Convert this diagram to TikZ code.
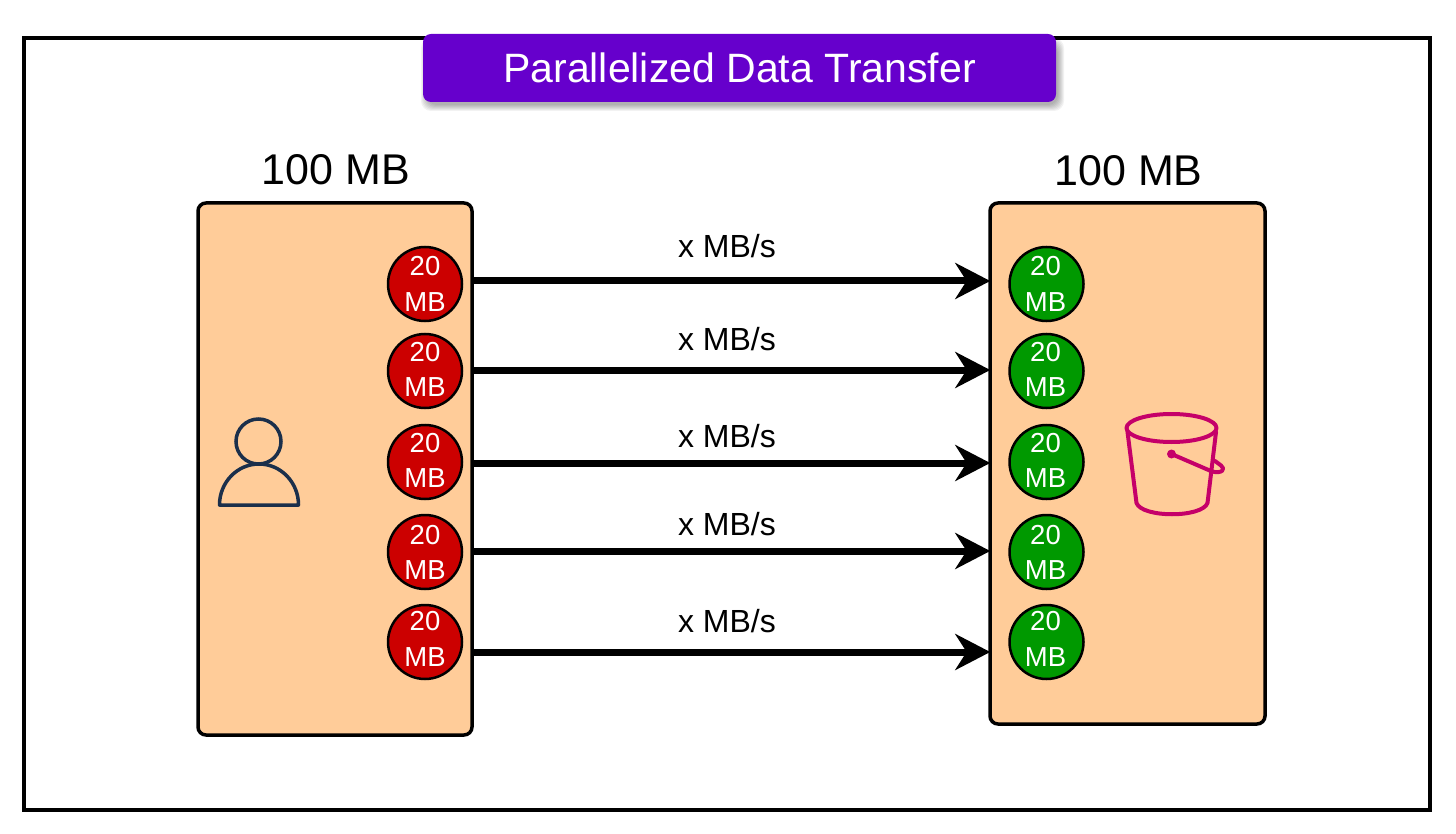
\documentclass[tikz,border=0pt]{standalone}
\usepackage{fontspec}
\setmainfont{Liberation Sans}
\usetikzlibrary{positioning,arrows.meta,calc}
\definecolor{boxOrange}{RGB}{255,204,153}
\definecolor{titlePurple}{RGB}{102,0,204}
\definecolor{chunkRed}{RGB}{204,0,0}
\definecolor{chunkGreen}{RGB}{0,153,0}
\definecolor{userNavy}{RGB}{27,47,75}
\definecolor{bucketPink}{RGB}{197,0,105}
\tikzset{
  hostbox/.style={draw=black, line width=3.5pt, fill=boxOrange, rounded corners=8pt},
  chunk/.style={circle, draw=black, line width=2.5pt, minimum size=74pt, inner sep=0pt},
  chunktext/.style={text=white, align=center, inner sep=0pt, font=\fontsize{27.5}{35.5}\selectfont},
  rate/.style={font=\fontsize{32}{36}\selectfont},
  sizelabel/.style={font=\fontsize{43}{50}\selectfont},
  link/.style={-{Stealth[length=35pt,width=36pt]}, line width=7pt, shorten >=-2pt}
}

\begin{document}
\begin{tikzpicture}[x=1pt,y=-1pt]
  \useasboundingbox (0,0) rectangle (1456,834);

  % Outer frame
  \draw[line width=4pt] (24,38) rectangle (1430,810);

  % Title shadow
  \foreach \s in {0,1,...,6} {
    \fill[black, opacity=0.05, rounded corners=10pt] (427-\s,44-\s) rectangle (1058+\s,105+\s);
  }

  % Title
  \node[fill=titlePurple, rounded corners=8pt, text=white, minimum width=633pt, minimum height=68pt,
    inner sep=0pt, font=\fontsize{41}{46}\selectfont] (title) at (739.5,68) {Parallelized Data Transfer};

  % Hosts
  \node[hostbox, minimum width=274pt, minimum height=532pt, inner sep=0pt] (srcbox) at (335,469) {};
  \node[hostbox, minimum width=275pt, minimum height=521pt, inner sep=0pt] (dstbox) at (1127.5,463.5) {};
  \node[sizelabel] (srclabel) at (336,170) {100 MB};
  \node[sizelabel] (dstlabel) at (1128.5,170.5) {100 MB};

  % Chunks and links
  \foreach \i/\yc/\yt/\yl/\yr in {1/284/284/281/246, 2/371/369.5/370/339, 3/462/460.5/463/436, 4/552/552.5/551/524, 5/642/639/652/621} {
    \node[chunk, fill=chunkRed] (src\i) at (425,\yc) {};
    \node[chunk, fill=chunkGreen] (dst\i) at (1046.5,\yc) {};
    \node[chunktext] (srctext\i) at (425,\yt) {20\\MB};
    \node[chunktext] (dsttext\i) at (1045.5,\yt) {20\\MB};
    \coordinate (from\i) at (srcbox.east |- 0,\yl);
    \coordinate (to\i) at (dstbox.west |- 0,\yl);
    \draw[link] (from\i) -- (to\i);
    \node[rate] (rate\i) at (727,\yr) {x MB/s};
  }

  % User icon
  \draw[userNavy, line width=3.5pt] (258.5,441.5) circle (22.5);
  \draw[userNavy, line width=3.5pt, line join=round] (219.5,505) arc[start angle=180, end angle=360, x radius=39.5, y radius=41] -- cycle;

  % Bucket icon
  \begin{scope}[bucketPink, line width=4pt, line cap=round, line join=round]
    \draw (1171.5,428) ellipse (45 and 14);
    \draw (1127.5,432) -- (1136.5,503) .. controls (1142,518) and (1202,518) .. (1207.5,503) -- (1216,432);
    \fill (1171.5,454) circle (4.5);
    \draw (1171.5,454) -- (1212,471.5) .. controls (1222,474) and (1226,469) .. (1221,465.5) -- (1215,461);
  \end{scope}
\end{tikzpicture}
\end{document}
